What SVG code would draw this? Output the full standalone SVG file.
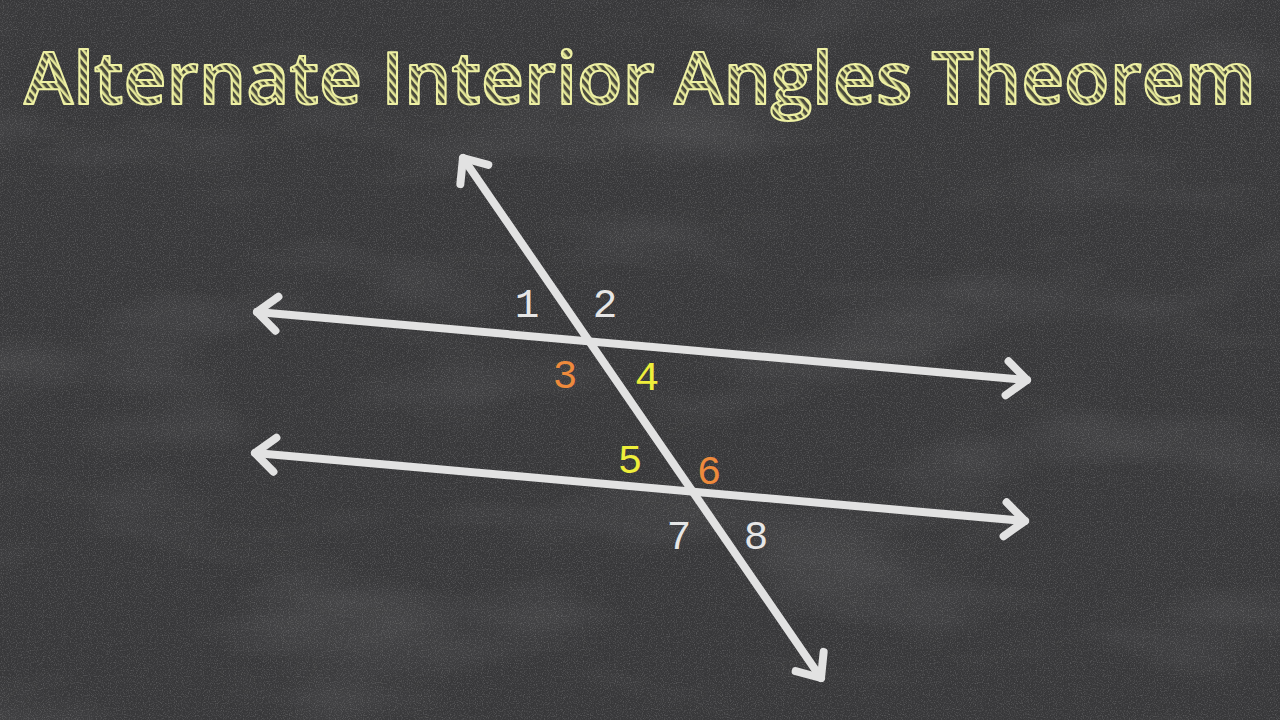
<svg xmlns="http://www.w3.org/2000/svg" width="1280" height="720" viewBox="0 0 1280 720">
  <defs>
    <filter id="chalk" x="0" y="0" width="100%" height="100%">
      <feTurbulence type="fractalNoise" baseFrequency="0.85" numOctaves="2" seed="3" result="n"/>
      <feColorMatrix type="matrix" values="0 0 0 0 1  0 0 0 0 1  0 0 0 0 1  0 0 0 -1.4 0.75" in="n"/>
    </filter>
    <filter id="smudge" x="0" y="0" width="100%" height="100%">
      <feTurbulence type="fractalNoise" baseFrequency="0.004 0.012" numOctaves="3" seed="8" result="n"/>
      <feColorMatrix type="matrix" values="0 0 0 0 1  0 0 0 0 1  0 0 0 0 1  0 0 0 -1.2 0.62" in="n"/>
    </filter>
    <pattern id="hatch" patternUnits="userSpaceOnUse" width="6" height="6" patternTransform="rotate(-40)">
      <rect width="6" height="6" fill="#4a4a3c"/>
      <rect width="2.6" height="6" fill="#e3e697"/>
    </pattern>
    <marker id="ah" markerUnits="userSpaceOnUse" markerWidth="60" markerHeight="60" viewBox="-30 -30 60 60" refX="0" refY="0" orient="auto-start-reverse" overflow="visible">
      <path d="M -20,-17 L 0,0 L -20,17" fill="none" stroke="#e2e2e2" stroke-width="8" stroke-linecap="round" stroke-linejoin="round"/>
    </marker>
    <style>
      .ln { fill: none; stroke: #e2e2e2; stroke-width: 8; stroke-linecap: round; marker-start: url(#ah); marker-end: url(#ah); }
      .num { font-family: "Liberation Mono", "DejaVu Sans Mono", monospace; font-size: 41px; text-anchor: middle; }
      .w { fill: #e6e6e6; }
      .o { fill: #ee8a3c; }
      .y { fill: #eeee3a; }
      .title { font-family: "Open Sans", "Noto Sans", "DejaVu Sans", sans-serif; font-weight: 600; font-size: 72px; fill: url(#hatch); stroke: #eef0a4; stroke-width: 2; stroke-linejoin: round; }
    </style>
  </defs>

  <g id="background">
    <rect width="1280" height="720" fill="#38383a"/>
    <rect width="1280" height="720" filter="url(#smudge)" opacity="0.15"/>
    <rect width="1280" height="720" filter="url(#chalk)" opacity="0.3"/>
  </g>

  <g id="title">
    <text class="title" x="640" y="104" text-anchor="middle" textLength="1232" lengthAdjust="spacingAndGlyphs">Alternate Interior Angles Theorem</text>
  </g>

  <g id="connectors">
    <line id="line1" class="ln" x1="257" y1="312" x2="1027" y2="380"/>
    <line id="line2" class="ln" x1="255" y1="453" x2="1025" y2="521"/>
    <line id="transversal" class="ln" x1="463" y1="158" x2="821" y2="678"/>
  </g>

  <g id="labels">
    <g id="angle1"><text class="num w" x="527" y="317">1</text></g>
    <g id="angle2"><text class="num w" x="605" y="317">2</text></g>
    <g id="angle3"><text class="num o" x="565" y="388">3</text></g>
    <g id="angle4"><text class="num y" x="647" y="390">4</text></g>
    <g id="angle5"><text class="num y" x="630" y="473">5</text></g>
    <g id="angle6"><text class="num o" x="709" y="484">6</text></g>
    <g id="angle7"><text class="num w" x="679" y="549">7</text></g>
    <g id="angle8"><text class="num w" x="756" y="549">8</text></g>
  </g>
</svg>
